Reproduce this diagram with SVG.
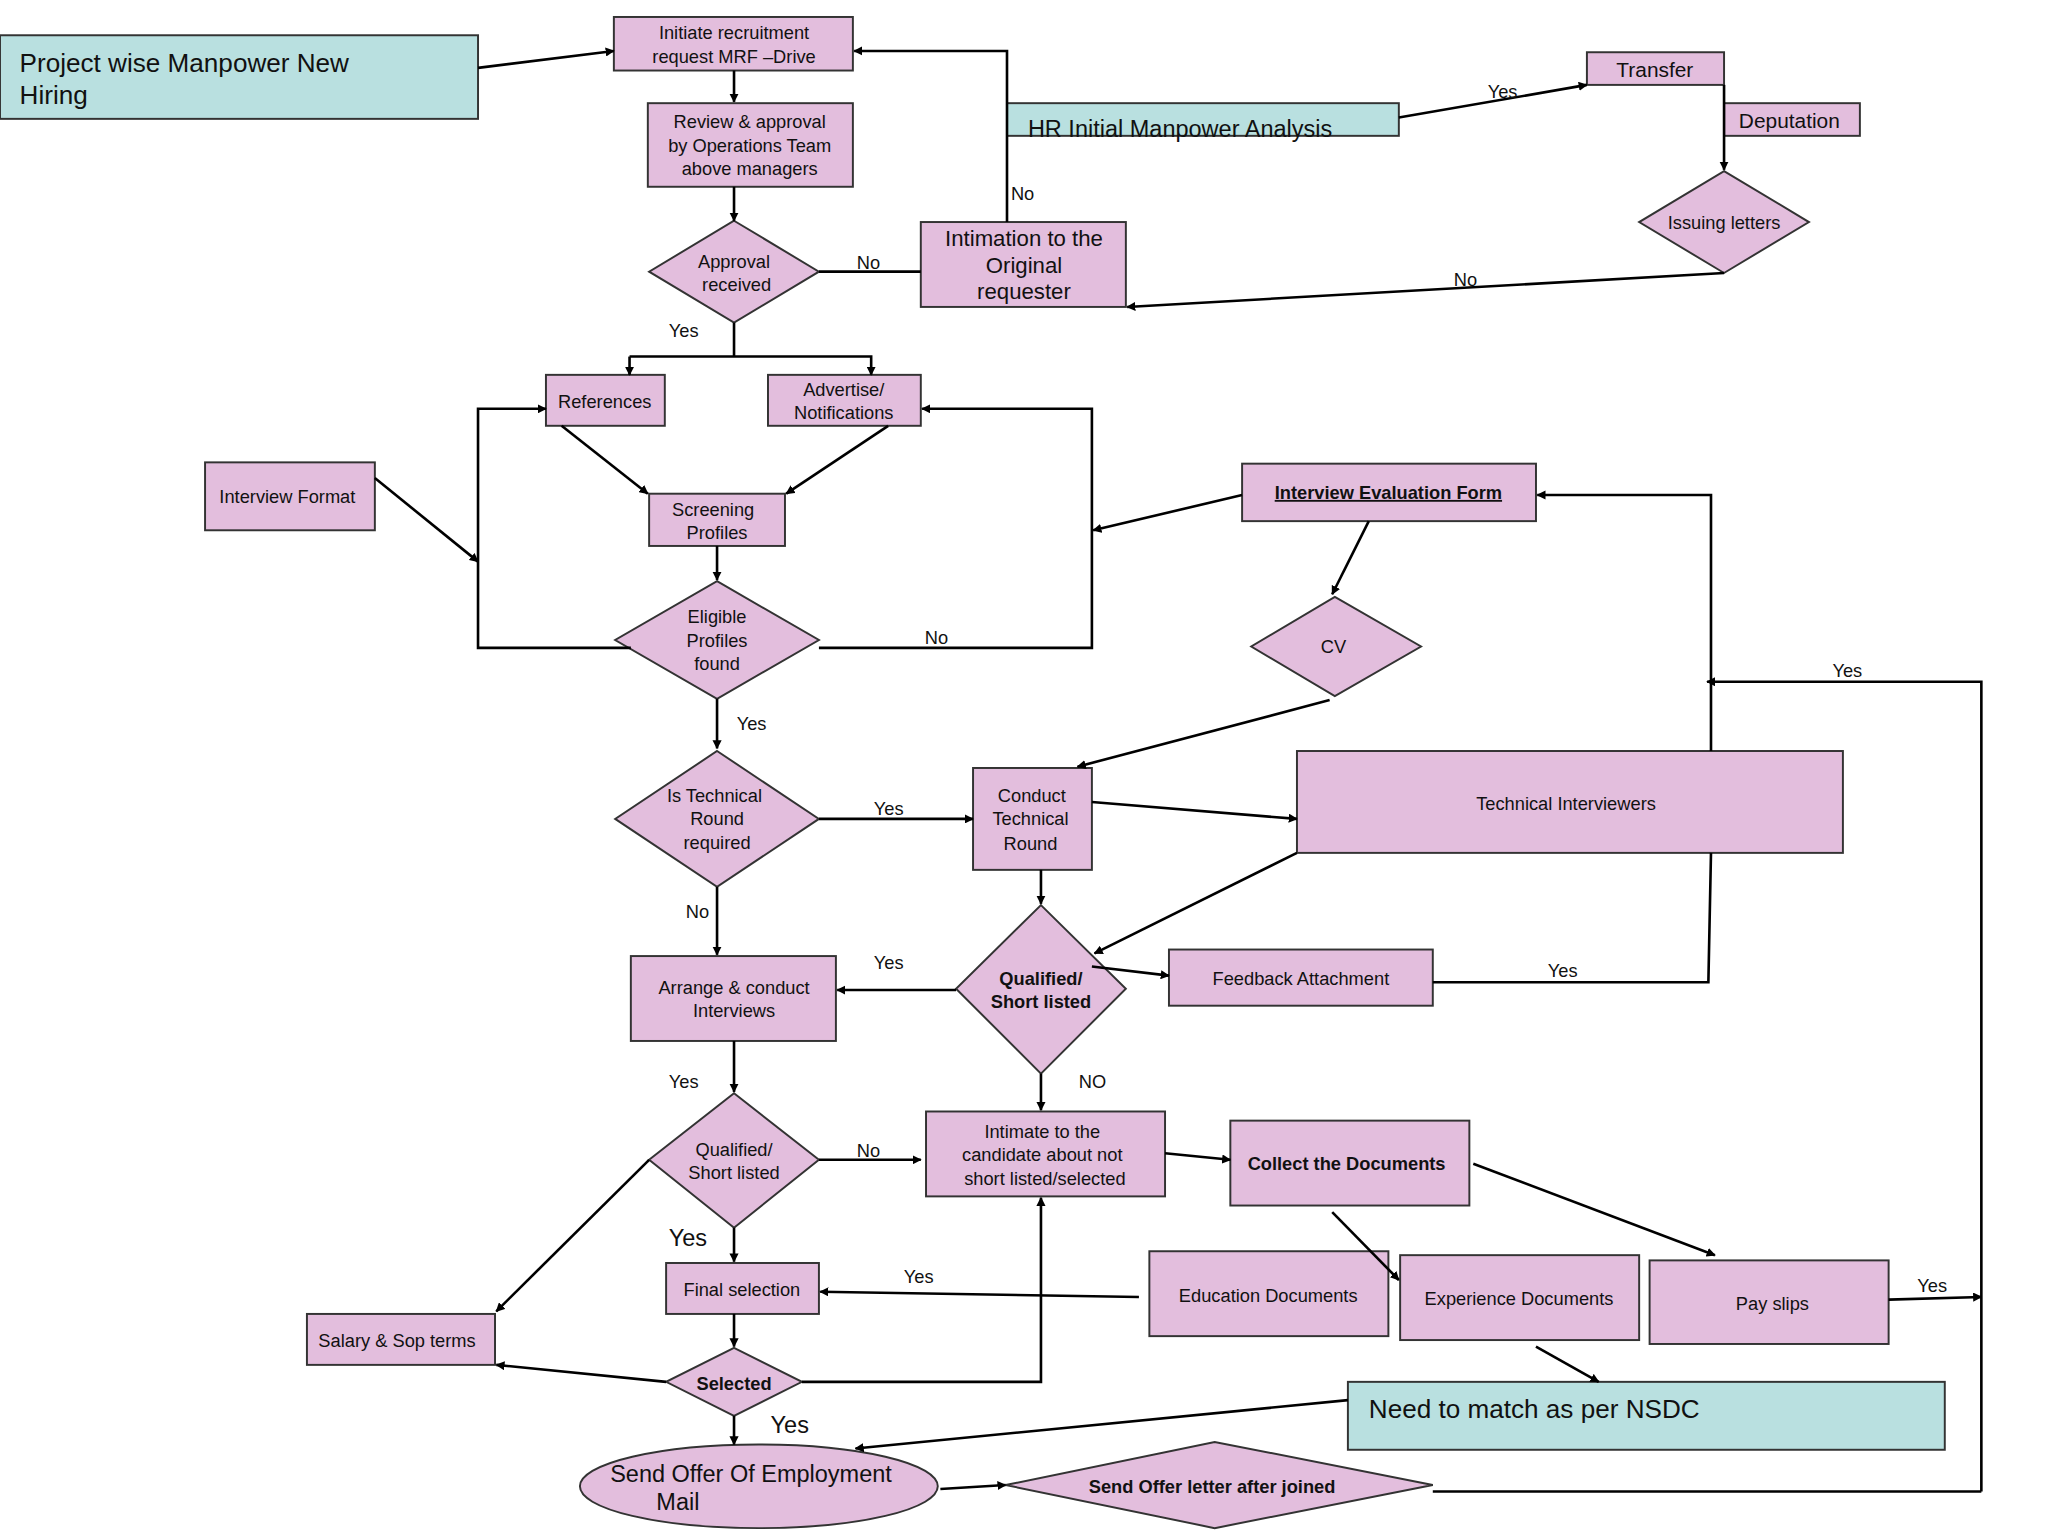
<svg xmlns="http://www.w3.org/2000/svg" width="2048" height="1536" viewBox="0 0 2048 1536">
<defs>
<marker id="ah" viewBox="0 0 10 10" refX="9" refY="5" markerWidth="7" markerHeight="7" orient="auto-start-reverse" markerUnits="userSpaceOnUse"><path d="M0,0 L10,5 L0,10 z" fill="#000"/></marker>
<style>
.n{fill:#e3bedd;stroke:#333;stroke-width:1.5}
.t{fill:#b9e0e0;stroke:#333;stroke-width:1.5}
text{font-family:"Liberation Sans",Arial,sans-serif;font-size:14px;fill:#111}
.c{text-anchor:middle}
.b{font-weight:bold}
.l{fill:none;stroke:#000;stroke-width:2}
.a{fill:none;stroke:#000;stroke-width:2;marker-end:url(#ah)}
</style>
</defs>
<rect width="2048" height="1536" fill="#fff"/>
<g transform="scale(1.3061)">
<g id="project"><rect class="t" x="0" y="27" width="366" height="64"/><text x="15" y="55" style="font-size:20px">Project wise Manpower New</text><text x="15" y="80" style="font-size:20px">Hiring</text></g>
<g id="initiate"><rect class="n" x="470" y="13" width="183" height="41"/><text class="c" x="562" y="30">Initiate recruitment</text><text class="c" x="562" y="48">request MRF –Drive</text></g>
<g id="review"><rect class="n" x="496" y="79" width="157" height="64"/><text class="c" x="574" y="98">Review &amp; approval</text><text class="c" x="574" y="116">by Operations Team</text><text class="c" x="574" y="134">above managers</text></g>
<g id="approval"><polygon class="n" points="562,169 627,208 562,247 497,208"/><text class="c" x="562" y="205">Approval</text><text class="c" x="564" y="223">received</text></g>
<g id="intimation"><rect class="n" x="705" y="170" width="157" height="65"/><text class="c" x="784" y="188" style="font-size:17px">Intimation to the</text><text class="c" x="784" y="209" style="font-size:17px">Original</text><text class="c" x="784" y="229" style="font-size:17px">requester</text></g>
<g id="hr"><rect class="t" x="771" y="79" width="300" height="25"/><text x="787" y="105" style="font-size:18px">HR Initial Manpower Analysis</text></g>
<g id="transfer"><rect class="n" x="1215" y="40" width="105" height="25"/><text class="c" x="1267" y="59" style="font-size:16px">Transfer</text></g>
<g id="deputation"><rect class="n" x="1320" y="79" width="104" height="25"/><text class="c" x="1370" y="98" style="font-size:16px">Deputation</text></g>
<g id="issuing"><polygon class="n" points="1320,131 1385,170 1320,209 1255,170"/><text class="c" x="1320" y="175">Issuing letters</text></g>
<g id="references"><rect class="n" x="418" y="287" width="91" height="39"/><text class="c" x="463" y="312">References</text></g>
<g id="advertise"><rect class="n" x="588" y="287" width="117" height="39"/><text class="c" x="646" y="303">Advertise/</text><text class="c" x="646" y="321">Notifications</text></g>
<g id="screening"><rect class="n" x="497" y="378" width="104" height="40"/><text class="c" x="546" y="395">Screening</text><text class="c" x="549" y="413">Profiles</text></g>
<g id="eligible"><polygon class="n" points="549,445 627,490 549,535 471,490"/><text class="c" x="549" y="477">Eligible</text><text class="c" x="549" y="495">Profiles</text><text class="c" x="549" y="513">found</text></g>
<g id="format"><rect class="n" x="157" y="354" width="130" height="52"/><text class="c" x="220" y="385">Interview Format</text></g>
<g id="evalform"><rect class="n" x="951" y="355" width="225" height="44"/><text class="c b" x="1063" y="382" text-decoration="underline">Interview Evaluation Form</text></g>
<g id="cv"><polygon class="n" points="1022,457 1088,495 1022,533 958,495"/><text class="c" x="1021" y="500">CV</text></g>
<g id="techq"><polygon class="n" points="549,575 627,627 549,679 471,627"/><text class="c" x="547" y="614">Is Technical</text><text class="c" x="549" y="632">Round</text><text class="c" x="549" y="650">required</text></g>
<g id="conduct"><rect class="n" x="745" y="588" width="91" height="78"/><text class="c" x="790" y="614">Conduct</text><text class="c" x="789" y="632">Technical</text><text class="c" x="789" y="651">Round</text></g>
<g id="techint"><rect class="n" x="993" y="575" width="418" height="78"/><text class="c" x="1199" y="620">Technical Interviewers</text></g>
<g id="qual1"><polygon class="n" points="797,693 862,757 797,822 732,757"/><text class="c b" x="797" y="754">Qualified/</text><text class="c b" x="797" y="772">Short listed</text></g>
<g id="feedback"><rect class="n" x="895" y="727" width="202" height="43"/><text class="c" x="996" y="754">Feedback Attachment</text></g>
<g id="arrange"><rect class="n" x="483" y="732" width="157" height="65"/><text class="c" x="562" y="761">Arrange &amp; conduct</text><text class="c" x="562" y="779">Interviews</text></g>
<g id="qual2"><polygon class="n" points="562,837 627,888 562,940 497,888"/><text class="c" x="562" y="885">Qualified/</text><text class="c" x="562" y="903">Short listed</text></g>
<g id="intimate"><rect class="n" x="709" y="851" width="183" height="65"/><text class="c" x="798" y="871">Intimate to the</text><text class="c" x="798" y="889">candidate about not</text><text class="c" x="800" y="907">short listed/selected</text></g>
<g id="collect"><rect class="n" x="942" y="858" width="183" height="65"/><text class="c b" x="1031" y="896">Collect the Documents</text></g>
<g id="education"><rect class="n" x="880" y="958" width="183" height="65"/><text class="c" x="971" y="997">Education Documents</text></g>
<g id="experience"><rect class="n" x="1072" y="961" width="183" height="65"/><text class="c" x="1163" y="999">Experience Documents</text></g>
<g id="payslips"><rect class="n" x="1263" y="965" width="183" height="64"/><text class="c" x="1357" y="1003">Pay slips</text></g>
<g id="final"><rect class="n" x="510" y="967" width="117" height="39"/><text class="c" x="568" y="992">Final selection</text></g>
<g id="salary"><rect class="n" x="235" y="1006" width="144" height="39"/><text class="c" x="304" y="1031">Salary &amp; Sop terms</text></g>
<g id="selected"><polygon class="n" points="562,1032 614,1058 562,1084 510,1058"/><text class="c b" x="562" y="1064">Selected</text></g>
<g id="nsdc"><rect class="t" x="1032" y="1058" width="457" height="52"/><text x="1048" y="1086" style="font-size:20px">Need to match as per NSDC</text></g>
<g id="sendoffer"><ellipse class="n" cx="581" cy="1138" rx="137" ry="32"/><text class="c" x="575" y="1135" style="font-size:18px">Send Offer Of Employment</text><text class="c" x="519" y="1156" style="font-size:18px">Mail</text></g>
<g id="sendletter"><polygon class="n" points="770,1137 930,1104 1097,1137 930,1170"/><text class="c b" x="928" y="1143">Send Offer letter after joined</text></g>
<g id="connectors">
<line class="a" x1="366" y1="52" x2="470" y2="39"/>
<line class="a" x1="562" y1="54" x2="562" y2="78"/>
<line class="a" x1="562" y1="143" x2="562" y2="169"/>
<line class="l" x1="627" y1="208" x2="705" y2="208"/>
<polyline class="a" points="771,170 771,39 654,39"/>
<line class="a" x1="1071" y1="90" x2="1215" y2="65"/>
<line class="a" x1="1320" y1="65" x2="1320" y2="130"/>
<line class="a" x1="1320" y1="209" x2="863" y2="235"/>
<line class="l" x1="562" y1="247" x2="562" y2="273"/>
<polyline class="a" points="482,273 482,287"/>
<polyline class="a" points="482,273 667,273 667,287"/>
<line class="a" x1="430" y1="326" x2="496" y2="378"/>
<line class="a" x1="680" y1="326" x2="602" y2="378"/>
<line class="a" x1="549" y1="418" x2="549" y2="444"/>
<polyline class="a" points="483,496 366,496 366,313 418,313"/>
<polyline class="a" points="627,496 836,496 836,313 706,313"/>
<line class="a" x1="287" y1="366" x2="366" y2="430"/>
<line class="a" x1="951" y1="379" x2="837" y2="406"/>
<line class="a" x1="1048" y1="399" x2="1020" y2="455"/>
<line class="a" x1="1018" y1="536" x2="825" y2="587"/>
<polyline class="a" points="1310,575 1310,379 1177,379"/>
<polyline class="a" points="1517,1142 1517,522 1307,522"/>
<line class="a" x1="549" y1="535" x2="549" y2="573"/>
<line class="a" x1="627" y1="627" x2="745" y2="627"/>
<line class="a" x1="836" y1="614" x2="993" y2="627"/>
<line class="a" x1="549" y1="679" x2="549" y2="731"/>
<line class="a" x1="797" y1="666" x2="797" y2="692"/>
<line class="a" x1="993" y1="653" x2="838" y2="730"/>
<line class="a" x1="836" y1="740" x2="895" y2="747"/>
<polyline class="l" points="1097,752 1308,752 1310,653"/>
<line class="a" x1="732" y1="758" x2="641" y2="758"/>
<line class="a" x1="797" y1="822" x2="797" y2="850"/>
<line class="a" x1="562" y1="797" x2="562" y2="836"/>
<line class="a" x1="627" y1="888" x2="705" y2="888"/>
<line class="a" x1="892" y1="883" x2="942" y2="888"/>
<line class="a" x1="1020" y1="928" x2="1071" y2="980"/>
<line class="a" x1="1128" y1="891" x2="1313" y2="961"/>
<line class="a" x1="1446" y1="995" x2="1517" y2="993"/>
<line class="a" x1="872" y1="993" x2="628" y2="989"/>
<line class="a" x1="497" y1="888" x2="380" y2="1004"/>
<line class="a" x1="562" y1="940" x2="562" y2="966"/>
<line class="a" x1="562" y1="1006" x2="562" y2="1031"/>
<line class="a" x1="510" y1="1058" x2="380" y2="1045"/>
<polyline class="a" points="614,1058 797,1058 797,917"/>
<line class="a" x1="1176" y1="1031" x2="1224" y2="1058"/>
<line class="a" x1="1032" y1="1072" x2="655" y2="1109"/>
<line class="a" x1="562" y1="1084" x2="562" y2="1106"/>
<line class="a" x1="720" y1="1140" x2="770" y2="1137"/>
<line class="l" x1="1097" y1="1142" x2="1517" y2="1142"/>
<text x="656" y="206">No</text>
<text x="774" y="153">No</text>
<text x="1139" y="75">Yes</text>
<text x="1113" y="219">No</text>
<text x="512" y="258">Yes</text>
<text x="708" y="493">No</text>
<text x="1403" y="518">Yes</text>
<text x="564" y="559">Yes</text>
<text x="669" y="624">Yes</text>
<text x="525" y="703">No</text>
<text x="669" y="742">Yes</text>
<text x="1185" y="748">Yes</text>
<text x="826" y="833">NO</text>
<text x="512" y="833">Yes</text>
<text x="656" y="886">No</text>
<text x="512" y="954" style="font-size:18px">Yes</text>
<text x="692" y="982">Yes</text>
<text x="1468" y="989">Yes</text>
<text x="590" y="1097" style="font-size:18px">Yes</text>
</g>
</g>
</svg>
